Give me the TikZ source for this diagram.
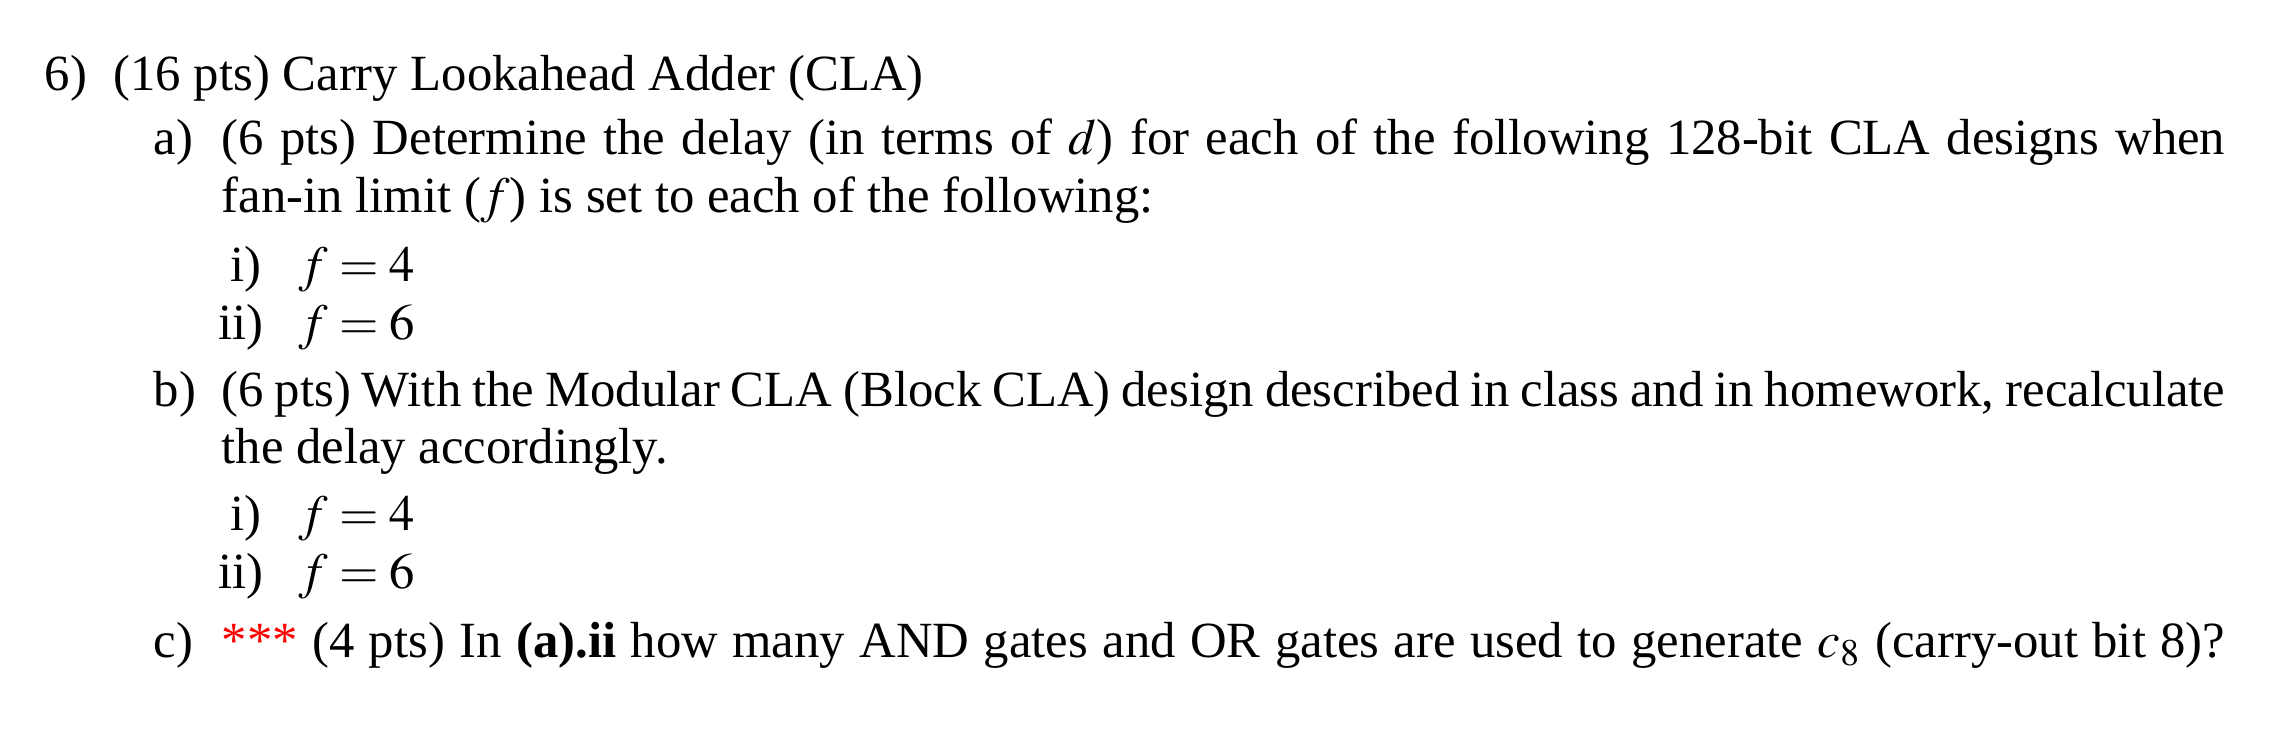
\documentclass[tikz,border=0pt]{standalone}
\usepackage{mathptmx}
\usepackage{fontspec}
\setmainfont{Liberation Serif}
\begin{document}
\begin{tikzpicture}[x=0.28pt,y=-0.28pt,every node/.style={inner sep=0pt,anchor=base west,font=\fontsize{14.2}{17}\selectfont}]
\useasboundingbox (0,0) rectangle (2278,750);
\node (t0) at (44,91) {6)};
\node (t1) at (113,91) {(16 pts) Carry Lookahead Adder (CLA)};
\node (a0) at (153,155) {a)};
\node (a1) at (221,155) {\makebox[561pt][s]{(6 pts) Determine the delay (in terms of $d$) for each of the following 128-bit CLA designs when}};
\node (a2) at (221,213) {fan-in limit ($f$) is set to each of the following:};
\node (a3) at (230,282) {i)};
\node (a3f) at (298,282) {$f=4$};
\node (a4) at (218,340) {ii)};
\node (a4f) at (298,340) {$f=6$};
\node (b0) at (153,407) {b)};
\node (b1) at (221,407) {\makebox[561pt][s]{(6 pts) With the Modular CLA (Block CLA) design described in class and in homework, recalculate}};
\node (b2) at (221,464) {the delay accordingly.};
\node (b3) at (230,531) {i)};
\node (b3f) at (298,531) {$f=4$};
\node (b4) at (218,589) {ii)};
\node (b4f) at (298,589) {$f=6$};
\node (c0) at (153,658) {c)};
\node (c1) at (221,658) {\makebox[561pt][s]{\textcolor{red}{***} (4 pts) In \textbf{(a).ii} how many AND gates and OR gates are used to generate $c_8$ (carry-out bit 8)?}};
\end{tikzpicture}
\end{document}
